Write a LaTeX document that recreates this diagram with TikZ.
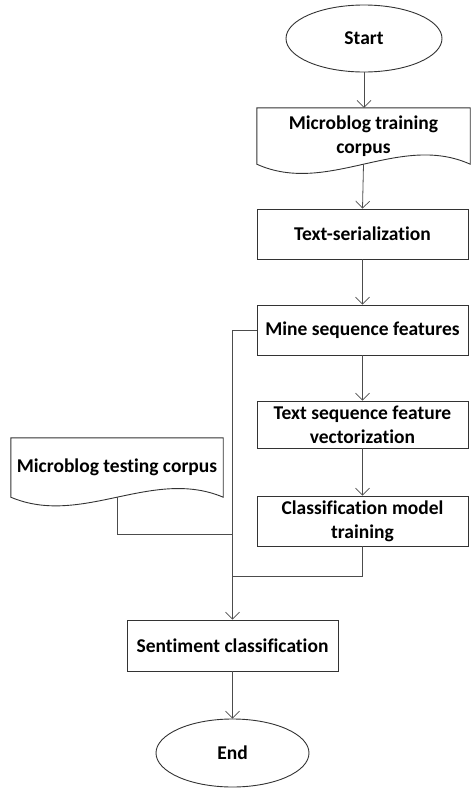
\documentclass[tikz,border=0pt]{standalone}
\usepackage{fontspec}
\setmainfont[Ligatures={NoCommon}]{Carlito}
\usetikzlibrary{shapes.geometric,arrows.meta,calc}
\begin{document}
\begin{tikzpicture}[x=1pt,y=-1pt,
  font=\fontsize{19.5}{24}\selectfont\bfseries,
  boxnode/.style={draw=black!80,line width=0.9pt,rectangle,minimum width=211pt,inner sep=0pt,align=center},
  ovalnode/.style={draw=black!80,line width=0.9pt,ellipse,inner sep=0pt},
  docnode/.style={rectangle,inner sep=0pt,align=center},
  docline/.style={draw=black!80,line width=0.9pt},
  conn/.style={draw=black!70,line width=0.8pt},
  arr/.style={conn,-{Straight Barb[length=7pt,width=14pt,line width=0.7pt]}}]
\useasboundingbox (0,0) rectangle (474,790);
% nodes
\node[ovalnode,minimum width=156pt,minimum height=67pt] (start) at (364,38.5) {Start};
\node[docnode,minimum width=213pt,minimum height=56pt] (train) at (363.5,136) {\fontsize{19.5}{26}\selectfont Microblog training\\corpus};
\node[boxnode,minimum height=50pt] (serial) at (362.5,234) {Text-serialization};
\node[boxnode,minimum height=50pt] (mine) at (362.5,330) {Mine sequence features};
\node[boxnode,minimum height=47pt] (vect) at (362.5,424.5) {Text sequence feature\\vectorization};
\node[boxnode,minimum height=50pt] (cls) at (362.5,521) {Classification model\\training};
\node[docnode,minimum width=212pt,minimum height=59pt] (test) at (117,467.5) {Microblog testing corpus};
\node[boxnode,minimum height=51pt] (sent) at (232.5,645.5) {Sentiment classification};
\node[ovalnode,minimum width=153pt,minimum height=68pt] (end) at (232.5,753) {End};
% document outlines
\path[docline] (train.north west) -- (train.north east) -- (train.south east)
  .. controls ($(train.south east)+(-71,-32)$) and ($(train.south west)+(71,32)$) .. (train.south west) -- cycle;
\path[docline] (test.north west) -- (test.north east) -- (test.south east)
  .. controls ($(test.south east)+(-71,-30)$) and ($(test.south west)+(71,30)$) .. (test.south west) -- cycle;
% junctions
\coordinate (j1) at (232.5,534);
\coordinate (j2) at (232.5,576);
% connectors
\draw[arr] (start.south) -- (train.north -| start.south);
\draw[arr] (train.south) -- (serial.north);
\draw[arr] (serial.south) -- (mine.north);
\draw[arr] (mine.south) -- (vect.north);
\draw[arr] (vect.south) -- (cls.north);
\draw[arr] (mine.west) -| (sent.north);
\draw[conn] (test.south) |- (j1);
\draw[conn] (cls.south) |- (j2);
\draw[arr] (sent.south) -- (end.north);
\end{tikzpicture}
\end{document}
